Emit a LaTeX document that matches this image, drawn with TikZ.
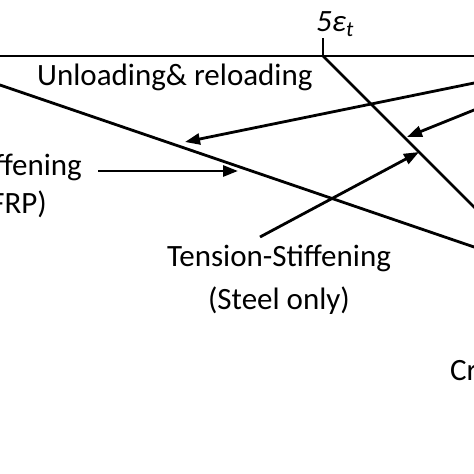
\documentclass[tikz,border=0pt]{standalone}
\usepackage{fontspec}
\setmainfont{Carlito}
\usetikzlibrary{arrows.meta}
\begin{document}
\begin{tikzpicture}[x=1pt,y=-1pt,
  curve/.style={line width=2.8pt},
  pointer/.style={line width=2.8pt,-{Triangle[length=15pt,width=11pt]}},
  lbl/.style={inner sep=0pt,font=\fontsize{31}{37}\selectfont}]
\useasboundingbox (0,0) rectangle (474,474);
\fill[white] (0,0) rectangle (474,474);
\clip (0,0) rectangle (474,474);
% coordinates
\coordinate (hl) at (-5,56);
\coordinate (hr) at (480,56);
\coordinate (pk) at (323,56);
\coordinate (tk) at (323,38);
\coordinate (aL) at (-10,81.6);
\coordinate (aR) at (484,250.4);
\coordinate (bR) at (490,223);
\coordinate (u1s) at (480,81.8);
\coordinate (u1e) at (185,142);
\coordinate (u2s) at (480,107.6);
\coordinate (u2e) at (407,137);
\coordinate (ts) at (260,237);
\coordinate (te) at (419,152);
\coordinate (fs) at (98,171);
\coordinate (fe) at (238,171);
% texts
\node[lbl,anchor=base] (eps) at (335,31) {\itshape 5ε\textsubscript{t}};
\node[lbl,anchor=base west] (unl) at (37,85) {Unloading\& reloading};
\node[lbl,anchor=base east] (ff) at (82,175) {ffening};
\node[lbl,anchor=base east] (frp) at (47,213) {FRP)};
\node[lbl,anchor=base] (ts1) at (279,266) {Tension-Stiffening};
\node[lbl,anchor=base] (ts2) at (279,309) {(Steel only)};
\node[lbl,anchor=base west] (cr) at (450,380) {Cr};
% curves
\draw[curve] (hl) -- (hr);
\draw[curve] (tk) -- (pk);
\draw[curve] (aL) -- (aR);
\draw[curve] (pk) -- (bR);
% arrows
\draw[pointer] (u1s) -- (u1e);
\draw[pointer] (u2s) -- (u2e);
\draw[pointer] (ts) -- (te);
\draw[pointer] (fs) -- (fe);
\end{tikzpicture}
\end{document}
